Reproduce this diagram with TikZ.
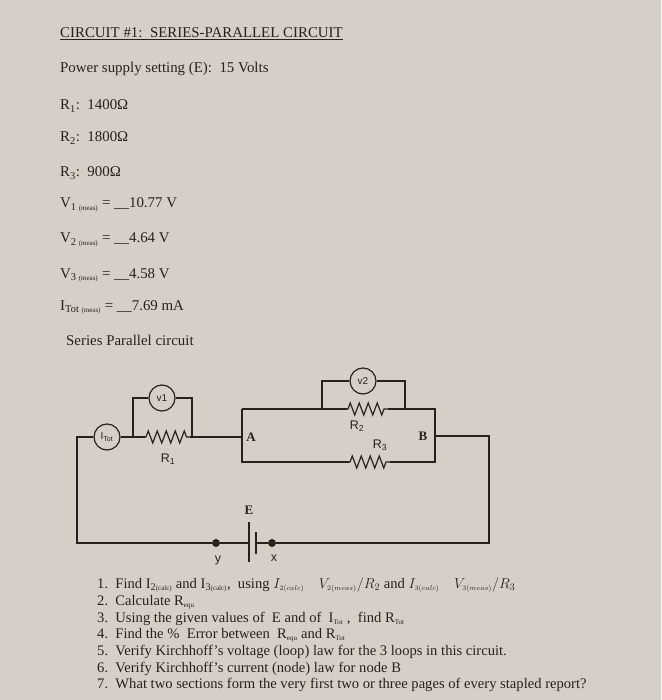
\documentclass[tikz,border=0pt]{standalone}
\usepackage{fontspec}
\setmainfont{Liberation Serif}
\setsansfont{Liberation Sans}
\usetikzlibrary{decorations.pathmorphing}
\definecolor{paper}{RGB}{214,207,199}
\definecolor{ink}{RGB}{40,32,30}
\begin{document}
\begin{tikzpicture}[x=1pt,y=-1pt,
  txt/.style={anchor=base west,inner sep=0pt,font=\fontsize{14.9}{16}\selectfont,text=ink},
  lst/.style={anchor=base west,inner sep=0pt,font=\fontsize{14.6}{16}\selectfont,text=ink},
  wire/.style={draw=ink,line width=1.2pt},
  meter/.style={circle,draw=ink,line width=1.2pt,minimum size=26pt,inner sep=0pt,font=\sffamily\fontsize{10}{11}\selectfont,text=ink,fill=paper},
  res/.style={wire,decorate,decoration={zigzag,segment length=9pt,amplitude=6pt,pre length=1pt,post length=1pt}},
  lab/.style={inner sep=0pt,font=\sffamily\fontsize{12.5}{13}\selectfont,text=ink},
  blab/.style={inner sep=0pt,font=\bfseries\fontsize{13}{14}\selectfont,text=ink},
  dot/.style={circle,fill=ink,inner sep=0pt,minimum size=8pt}]
\fill[paper] (0,0) rectangle (661,700);
\useasboundingbox (0,0) rectangle (661,700);
% texts
\node[txt] (t0) at (60,38) {\underline{CIRCUIT \#1:\ \ SERIES-PARALLEL CIRCUIT}};
\node[txt] (t1) at (60,73) {Power supply setting (E):\ \ 15 Volts};
\node[txt] (t2) at (60,110) {R\textsubscript{1}:\ \ 1400Ω};
\node[txt] (t3) at (60,142) {R\textsubscript{2}:\ \ 1800Ω};
\node[txt] (t4) at (60,177) {R\textsubscript{3}:\ \ 900Ω};
\node[txt] (t5) at (60,208) {V\textsubscript{1 \scriptsize(meas)} = \_\_10.77 V};
\node[txt] (t6) at (60,243) {V\textsubscript{2 \scriptsize(meas)} = \_\_4.64 V};
\node[txt] (t7) at (60,278) {V\textsubscript{3 \scriptsize(meas)} = \_\_4.58 V};
\node[txt] (t8) at (60,310) {I\textsubscript{Tot \scriptsize(meas)} = \_\_7.69 mA};
\node[txt] (t9) at (66,345) {Series Parallel circuit};
% circuit
\node[meter] (it) at (107,437) {I\textsubscript{Tot}};
\node[meter] (v1) at (162,398) {v1};
\node[meter] (v2) at (363,381) {v2};
\coordinate (c1) at (77,437);
\coordinate (c2) at (77,543);
\coordinate (r1a) at (133,437);
\coordinate (Aa) at (242,437);
\coordinate (Bt) at (242,409);
\coordinate (Bb) at (242,462);
\coordinate (Ct) at (435,409);
\coordinate (Cb) at (435,462);
\coordinate (Bm) at (435,436);
\coordinate (rr) at (489,436);
\coordinate (rb) at (489,543);
\node[dot] (ny) at (216,543) {};
\node[dot] (nx) at (272,543) {};
\coordinate (p1) at (249,543);
\coordinate (p2) at (256,543);
\draw[wire] (it) -- (c1) -- (c2) -- (ny) -- (p1);
\draw[wire] (p1) ++(0,-21) -- ++(0,40);
\draw[wire] (p2) ++(0,-11) -- ++(0,22);
\draw[wire] (p2) -- (nx) -- (rb) -- (rr) -- (Bm);
\draw[wire] (it) -- (r1a);
\draw[res] (145,437) -- (190,437);
\draw[wire] (r1a) -- (145,437) (190,437) -- (Aa);
\draw[wire] (r1a) -- (133,398) -- (v1) -- (192,398) -- (192,437);
\draw[wire] (Bt) -- (Bb) -- (349,462);
\draw[res] (349,462) -- (390,462);
\draw[wire] (390,462) -- (Cb) -- (Ct) -- (388,409);
\draw[res] (347,409) -- (388,409);
\draw[wire] (347,409) -- (Bt);
\draw[wire] (322,409) -- (322,381) -- (v2) -- (405,381) -- (405,409);
\node[lab] (lR1) at (168,459) {R\textsubscript{1}};
\node[lab] (lR2) at (357,426) {R\textsubscript{2}};
\node[lab] (lR3) at (380,445) {R\textsubscript{3}};
\node[blab] (lA) at (251,437) {A};
\node[blab] (lB) at (423,436) {B};
\node[blab] (lE) at (249,510) {E};
\node[lab] (ly) at (218,560) {y};
\node[lab] (lx) at (274,558) {x};
% list
\node[lst] (l1) at (97,588) {1.\ \ Find I\textsubscript{2\scriptsize(calc)} and I\textsubscript{3\scriptsize(calc)}, \ using $I_{\scriptscriptstyle 2(calc)}\quad V_{\scriptscriptstyle 2(meas)}\big/R_2$ and $I_{\scriptscriptstyle 3(calc)}\quad V_{\scriptscriptstyle 3(meas)}\big/R_3$};
\node[lst] (l2) at (97,605) {2.\ \ Calculate R\textsubscript{\scriptsize equ}};
\node[lst] (l3) at (97,622) {3.\ \ Using the given values of \ E and of \ I\textsubscript{\scriptsize Tot} , \ find R\textsubscript{\scriptsize Tot}};
\node[lst] (l4) at (97,638) {4.\ \ Find the \% \ Error between \ R\textsubscript{\scriptsize equ} and R\textsubscript{\scriptsize Tot}};
\node[lst] (l5) at (97,655) {5.\ \ Verify Kirchhoff's voltage (loop) law for the 3 loops in this circuit.};
\node[lst] (l6) at (97,672) {6.\ \ Verify Kirchhoff's current (node) law for node B};
\node[lst] (l7) at (97,688) {7.\ \ What two sections form the very first two or three pages of every stapled report?};
\end{tikzpicture}
\end{document}
